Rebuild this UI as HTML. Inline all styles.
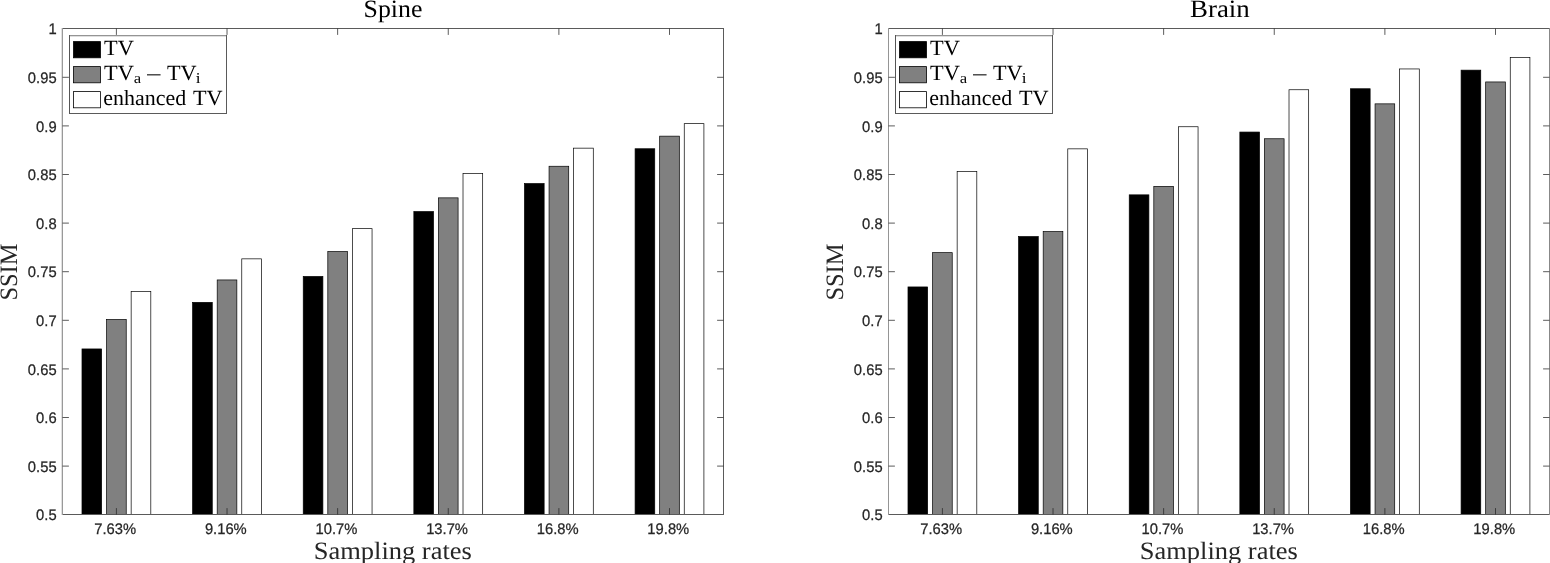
<!DOCTYPE html>
<html><head><meta charset="utf-8"><title>SSIM bar charts</title>
<style>
html,body{margin:0;padding:0;background:#fff;}
body{width:1550px;height:563px;overflow:hidden;}
svg{display:block;text-rendering:geometricPrecision;}
.tk{font-family:"Liberation Sans",Arial,sans-serif;font-size:15.3px;fill:#262626;stroke:#262626;stroke-width:0.25px;}
.sf{font-family:"Liberation Serif","Times New Roman",serif;font-size:25px;fill:#000;}
.lg{font-family:"Liberation Serif","Times New Roman",serif;font-size:21.6px;fill:#000;}
.sub{font-size:15px;}
.lab{fill:#262626;}
</style></head><body>
<svg width="1550" height="563" viewBox="0 0 1550 563">
<rect width="1550" height="563" fill="#fff"/>
<rect x="81.99" y="348.95" width="19.66" height="165.55" fill="#000000" stroke="#000" stroke-width="0.7"/>
<rect x="106.57" y="319.45" width="19.66" height="195.05" fill="#808080" stroke="#000" stroke-width="0.7"/>
<rect x="131.15" y="291.45" width="19.66" height="223.05" fill="#ffffff" stroke="#000" stroke-width="0.7"/>
<rect x="192.61" y="302.35" width="19.66" height="212.15" fill="#000000" stroke="#000" stroke-width="0.7"/>
<rect x="217.19" y="279.95" width="19.66" height="234.55" fill="#808080" stroke="#000" stroke-width="0.7"/>
<rect x="241.77" y="258.85" width="19.66" height="255.65" fill="#ffffff" stroke="#000" stroke-width="0.7"/>
<rect x="303.23" y="276.45" width="19.66" height="238.05" fill="#000000" stroke="#000" stroke-width="0.7"/>
<rect x="327.81" y="251.55" width="19.66" height="262.95" fill="#808080" stroke="#000" stroke-width="0.7"/>
<rect x="352.39" y="228.65" width="19.66" height="285.85" fill="#ffffff" stroke="#000" stroke-width="0.7"/>
<rect x="413.85" y="211.55" width="19.66" height="302.95" fill="#000000" stroke="#000" stroke-width="0.7"/>
<rect x="438.43" y="197.85" width="19.66" height="316.65" fill="#808080" stroke="#000" stroke-width="0.7"/>
<rect x="463.01" y="173.45" width="19.66" height="341.05" fill="#ffffff" stroke="#000" stroke-width="0.7"/>
<rect x="524.47" y="183.55" width="19.66" height="330.95" fill="#000000" stroke="#000" stroke-width="0.7"/>
<rect x="549.05" y="166.25" width="19.66" height="348.25" fill="#808080" stroke="#000" stroke-width="0.7"/>
<rect x="573.63" y="148.15" width="19.66" height="366.35" fill="#ffffff" stroke="#000" stroke-width="0.7"/>
<rect x="635.09" y="148.75" width="19.66" height="365.75" fill="#000000" stroke="#000" stroke-width="0.7"/>
<rect x="659.67" y="136.15" width="19.66" height="378.35" fill="#808080" stroke="#000" stroke-width="0.7"/>
<rect x="684.25" y="123.65" width="19.66" height="390.85" fill="#ffffff" stroke="#000" stroke-width="0.7"/>
<rect x="62" y="28" width="662" height="1" fill="#5a5a5a"/>
<rect x="62" y="514" width="662" height="1" fill="#5a5a5a"/>
<rect x="61" y="28" width="1" height="487" fill="#e0e0e0"/>
<rect x="62" y="28" width="1" height="487" fill="#999999"/>
<rect x="723" y="28" width="1" height="487" fill="#5a5a5a"/>
<path d="M116.4 514.5v-6.4M116.4 28.5v6.4M227.02 514.5v-6.4M227.02 28.5v6.4M337.64 514.5v-6.4M337.64 28.5v6.4M448.26 514.5v-6.4M448.26 28.5v6.4M558.88 514.5v-6.4M558.88 28.5v6.4M669.5 514.5v-6.4M669.5 28.5v6.4M62.5 466.1h6.4M723.5 466.1h-6.4M62.5 417.5h6.4M723.5 417.5h-6.4M62.5 368.9h6.4M723.5 368.9h-6.4M62.5 320.3h6.4M723.5 320.3h-6.4M62.5 271.7h6.4M723.5 271.7h-6.4M62.5 223.1h6.4M723.5 223.1h-6.4M62.5 174.5h6.4M723.5 174.5h-6.4M62.5 125.9h6.4M723.5 125.9h-6.4M62.5 77.3h6.4M723.5 77.3h-6.4" fill="none" stroke="#262626" stroke-width="0.75"/>
<text class="tk" transform="translate(56.6 520.4) scale(0.965 1)" text-anchor="end">0.5</text>
<text class="tk" transform="translate(56.6 471.8) scale(0.965 1)" text-anchor="end">0.55</text>
<text class="tk" transform="translate(56.6 423.2) scale(0.965 1)" text-anchor="end">0.6</text>
<text class="tk" transform="translate(56.6 374.6) scale(0.965 1)" text-anchor="end">0.65</text>
<text class="tk" transform="translate(56.6 326) scale(0.965 1)" text-anchor="end">0.7</text>
<text class="tk" transform="translate(56.6 277.4) scale(0.965 1)" text-anchor="end">0.75</text>
<text class="tk" transform="translate(56.6 228.8) scale(0.965 1)" text-anchor="end">0.8</text>
<text class="tk" transform="translate(56.6 180.2) scale(0.965 1)" text-anchor="end">0.85</text>
<text class="tk" transform="translate(56.6 131.6) scale(0.965 1)" text-anchor="end">0.9</text>
<text class="tk" transform="translate(56.6 83) scale(0.965 1)" text-anchor="end">0.95</text>
<text class="tk" transform="translate(56.6 34.4) scale(0.965 1)" text-anchor="end">1</text>
<text class="tk" transform="translate(115.2 534.4) scale(0.965 1)" text-anchor="middle">7.63%</text>
<text class="tk" transform="translate(225.82 534.4) scale(0.965 1)" text-anchor="middle">9.16%</text>
<text class="tk" transform="translate(336.44 534.4) scale(0.965 1)" text-anchor="middle">10.7%</text>
<text class="tk" transform="translate(447.06 534.4) scale(0.965 1)" text-anchor="middle">13.7%</text>
<text class="tk" transform="translate(557.68 534.4) scale(0.965 1)" text-anchor="middle">16.8%</text>
<text class="tk" transform="translate(668.3 534.4) scale(0.965 1)" text-anchor="middle">19.8%</text>
<text class="sf" x="393" y="17.2" text-anchor="middle" textLength="58.8" lengthAdjust="spacingAndGlyphs">Spine</text>
<text class="sf lab" x="392.8" y="558.9" text-anchor="middle" textLength="158" lengthAdjust="spacingAndGlyphs">Sampling rates</text>
<text class="sf lab" transform="translate(17.2 272.05) rotate(-90)" x="0" y="0" text-anchor="middle" textLength="57" lengthAdjust="spacingAndGlyphs">SSIM</text>
<rect x="69" y="35" width="158" height="79" fill="#fff"/>
<rect x="69" y="35" width="158" height="1" fill="#949494"/>
<rect x="70" y="36" width="156" height="1" fill="#dedede"/>
<rect x="69" y="113" width="158" height="1" fill="#5a5a5a"/>
<rect x="69" y="35" width="1" height="79" fill="#555555"/>
<rect x="226" y="35" width="1" height="79" fill="#5a5a5a"/>
<rect x="73.5" y="41.6" width="27" height="16.2" fill="#000000" stroke="#000" stroke-width="0.8"/>
<rect x="73.5" y="66.6" width="27" height="16.2" fill="#808080" stroke="#000" stroke-width="0.8"/>
<rect x="73.5" y="91.6" width="27" height="16.2" fill="#ffffff" stroke="#000" stroke-width="0.8"/>
<text class="lg" x="104" y="54.9" textLength="29.8" lengthAdjust="spacingAndGlyphs">TV</text>
<text class="lg" x="104" y="79.8" textLength="29.8" lengthAdjust="spacingAndGlyphs">TV</text>
<text class="lg sub" x="133.8" y="82.9" textLength="7.4" lengthAdjust="spacingAndGlyphs">a</text>
<text class="lg" x="145.6" y="81.75" textLength="16.5" lengthAdjust="spacingAndGlyphs">−</text>
<text class="lg" x="167" y="79.8" textLength="29.6" lengthAdjust="spacingAndGlyphs">TV</text>
<text class="lg sub" x="195.8" y="82.9" textLength="4.8" lengthAdjust="spacingAndGlyphs">i</text>
<text class="lg" x="103.3" y="104.6" textLength="82.9" lengthAdjust="spacingAndGlyphs">enhanced</text>
<text class="lg" x="192.9" y="104.7" textLength="29.6" lengthAdjust="spacingAndGlyphs">TV</text>
<rect x="907.99" y="286.95" width="19.66" height="227.55" fill="#000000" stroke="#000" stroke-width="0.7"/>
<rect x="932.57" y="252.65" width="19.66" height="261.85" fill="#808080" stroke="#000" stroke-width="0.7"/>
<rect x="957.15" y="171.35" width="19.66" height="343.15" fill="#ffffff" stroke="#000" stroke-width="0.7"/>
<rect x="1018.61" y="236.55" width="19.66" height="277.95" fill="#000000" stroke="#000" stroke-width="0.7"/>
<rect x="1043.19" y="231.55" width="19.66" height="282.95" fill="#808080" stroke="#000" stroke-width="0.7"/>
<rect x="1067.77" y="148.85" width="19.66" height="365.65" fill="#ffffff" stroke="#000" stroke-width="0.7"/>
<rect x="1129.23" y="194.85" width="19.66" height="319.65" fill="#000000" stroke="#000" stroke-width="0.7"/>
<rect x="1153.81" y="186.35" width="19.66" height="328.15" fill="#808080" stroke="#000" stroke-width="0.7"/>
<rect x="1178.39" y="126.75" width="19.66" height="387.75" fill="#ffffff" stroke="#000" stroke-width="0.7"/>
<rect x="1239.85" y="132.05" width="19.66" height="382.45" fill="#000000" stroke="#000" stroke-width="0.7"/>
<rect x="1264.43" y="138.75" width="19.66" height="375.75" fill="#808080" stroke="#000" stroke-width="0.7"/>
<rect x="1289.01" y="89.75" width="19.66" height="424.75" fill="#ffffff" stroke="#000" stroke-width="0.7"/>
<rect x="1350.47" y="88.75" width="19.66" height="425.75" fill="#000000" stroke="#000" stroke-width="0.7"/>
<rect x="1375.05" y="103.85" width="19.66" height="410.65" fill="#808080" stroke="#000" stroke-width="0.7"/>
<rect x="1399.63" y="68.95" width="19.66" height="445.55" fill="#ffffff" stroke="#000" stroke-width="0.7"/>
<rect x="1461.09" y="70.15" width="19.66" height="444.35" fill="#000000" stroke="#000" stroke-width="0.7"/>
<rect x="1485.67" y="81.95" width="19.66" height="432.55" fill="#808080" stroke="#000" stroke-width="0.7"/>
<rect x="1510.25" y="57.45" width="19.66" height="457.05" fill="#ffffff" stroke="#000" stroke-width="0.7"/>
<rect x="888" y="28" width="662" height="1" fill="#5a5a5a"/>
<rect x="888" y="514" width="662" height="1" fill="#5a5a5a"/>
<rect x="888" y="28" width="1" height="487" fill="#959595"/>
<rect x="1549" y="28" width="1" height="487" fill="#888888"/>
<path d="M942.4 514.5v-6.4M942.4 28.5v6.4M1053.02 514.5v-6.4M1053.02 28.5v6.4M1163.64 514.5v-6.4M1163.64 28.5v6.4M1274.26 514.5v-6.4M1274.26 28.5v6.4M1384.88 514.5v-6.4M1384.88 28.5v6.4M1495.5 514.5v-6.4M1495.5 28.5v6.4M888.5 466.1h6.4M1549.5 466.1h-6.4M888.5 417.5h6.4M1549.5 417.5h-6.4M888.5 368.9h6.4M1549.5 368.9h-6.4M888.5 320.3h6.4M1549.5 320.3h-6.4M888.5 271.7h6.4M1549.5 271.7h-6.4M888.5 223.1h6.4M1549.5 223.1h-6.4M888.5 174.5h6.4M1549.5 174.5h-6.4M888.5 125.9h6.4M1549.5 125.9h-6.4M888.5 77.3h6.4M1549.5 77.3h-6.4" fill="none" stroke="#262626" stroke-width="0.75"/>
<text class="tk" transform="translate(882.6 520.4) scale(0.965 1)" text-anchor="end">0.5</text>
<text class="tk" transform="translate(882.6 471.8) scale(0.965 1)" text-anchor="end">0.55</text>
<text class="tk" transform="translate(882.6 423.2) scale(0.965 1)" text-anchor="end">0.6</text>
<text class="tk" transform="translate(882.6 374.6) scale(0.965 1)" text-anchor="end">0.65</text>
<text class="tk" transform="translate(882.6 326) scale(0.965 1)" text-anchor="end">0.7</text>
<text class="tk" transform="translate(882.6 277.4) scale(0.965 1)" text-anchor="end">0.75</text>
<text class="tk" transform="translate(882.6 228.8) scale(0.965 1)" text-anchor="end">0.8</text>
<text class="tk" transform="translate(882.6 180.2) scale(0.965 1)" text-anchor="end">0.85</text>
<text class="tk" transform="translate(882.6 131.6) scale(0.965 1)" text-anchor="end">0.9</text>
<text class="tk" transform="translate(882.6 83) scale(0.965 1)" text-anchor="end">0.95</text>
<text class="tk" transform="translate(882.6 34.4) scale(0.965 1)" text-anchor="end">1</text>
<text class="tk" transform="translate(941.2 534.4) scale(0.965 1)" text-anchor="middle">7.63%</text>
<text class="tk" transform="translate(1051.82 534.4) scale(0.965 1)" text-anchor="middle">9.16%</text>
<text class="tk" transform="translate(1162.44 534.4) scale(0.965 1)" text-anchor="middle">10.7%</text>
<text class="tk" transform="translate(1273.06 534.4) scale(0.965 1)" text-anchor="middle">13.7%</text>
<text class="tk" transform="translate(1383.68 534.4) scale(0.965 1)" text-anchor="middle">16.8%</text>
<text class="tk" transform="translate(1494.3 534.4) scale(0.965 1)" text-anchor="middle">19.8%</text>
<text class="sf" x="1219.9" y="17.2" text-anchor="middle" textLength="59.7" lengthAdjust="spacingAndGlyphs">Brain</text>
<text class="sf lab" x="1218.8" y="558.9" text-anchor="middle" textLength="158" lengthAdjust="spacingAndGlyphs">Sampling rates</text>
<text class="sf lab" transform="translate(843.2 272.05) rotate(-90)" x="0" y="0" text-anchor="middle" textLength="57" lengthAdjust="spacingAndGlyphs">SSIM</text>
<rect x="895" y="35" width="158" height="79" fill="#fff"/>
<rect x="895" y="35" width="158" height="1" fill="#949494"/>
<rect x="896" y="36" width="156" height="1" fill="#dedede"/>
<rect x="895" y="113" width="158" height="1" fill="#5a5a5a"/>
<rect x="895" y="35" width="1" height="79" fill="#555555"/>
<rect x="1052" y="35" width="1" height="79" fill="#5a5a5a"/>
<rect x="899.5" y="41.6" width="27" height="16.2" fill="#000000" stroke="#000" stroke-width="0.8"/>
<rect x="899.5" y="66.6" width="27" height="16.2" fill="#808080" stroke="#000" stroke-width="0.8"/>
<rect x="899.5" y="91.6" width="27" height="16.2" fill="#ffffff" stroke="#000" stroke-width="0.8"/>
<text class="lg" x="930" y="54.9" textLength="29.8" lengthAdjust="spacingAndGlyphs">TV</text>
<text class="lg" x="930" y="79.8" textLength="29.8" lengthAdjust="spacingAndGlyphs">TV</text>
<text class="lg sub" x="959.8" y="82.9" textLength="7.4" lengthAdjust="spacingAndGlyphs">a</text>
<text class="lg" x="971.6" y="81.75" textLength="16.5" lengthAdjust="spacingAndGlyphs">−</text>
<text class="lg" x="993" y="79.8" textLength="29.6" lengthAdjust="spacingAndGlyphs">TV</text>
<text class="lg sub" x="1021.8" y="82.9" textLength="4.8" lengthAdjust="spacingAndGlyphs">i</text>
<text class="lg" x="929.3" y="104.6" textLength="82.9" lengthAdjust="spacingAndGlyphs">enhanced</text>
<text class="lg" x="1018.9" y="104.7" textLength="29.6" lengthAdjust="spacingAndGlyphs">TV</text>
</svg>
</body></html>
